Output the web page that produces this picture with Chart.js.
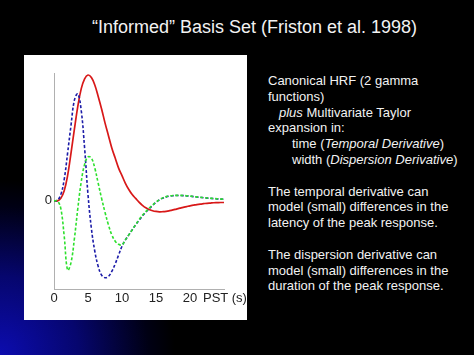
<!DOCTYPE html>
<html>
<head>
<meta charset="utf-8">
<script src="https://cdn.jsdelivr.net/npm/chart.js@4/dist/chart.umd.min.js"></script>
<style>
  html,body{margin:0;padding:0;}
  body{width:474px;height:355px;overflow:hidden;position:relative;font-family:"Liberation Sans",Arial,sans-serif;color:#f2f2f2;
    background:#000 radial-gradient(ellipse 175px 175px at 0% 100%, rgb(12,12,175) 0%, rgb(6,6,110) 45%, rgb(0,0,20) 85%, #000 100%) no-repeat;}
  .title{position:absolute;left:0;width:509px;top:16px;text-align:center;font-size:18px;line-height:22px;}
  .panel{position:absolute;left:24px;top:55px;width:223px;height:265px;background:#fff;}
  .panel canvas{position:absolute;left:0;top:0;}
  .pst{position:absolute;left:179px;top:235px;font-family:"Liberation Sans Narrow","Liberation Sans",Arial,sans-serif;font-size:13px;line-height:15px;color:#222;}
  .notes{position:absolute;left:268px;top:73px;font-size:13px;line-height:15.8px;}
  .notes div{height:15.8px;white-space:nowrap;}
  .i1{padding-left:11px;}
  .i2{padding-left:24px;}
</style>
</head>
<body>
<div class="title">“Informed” Basis Set (Friston et al. 1998)</div>
<div class="panel">
  <canvas id="ch-hrf" width="223" height="265"></canvas>
  <span class="pst">PST (s)</span>
</div>
<div class="notes">
  <div>Canonical HRF (2 gamma</div>
  <div>functions)</div>
  <div class="i1"><i>plus</i> Multivariate Taylor</div>
  <div>expansion in:</div>
  <div class="i2">time (<i>Temporal Derivative</i>)</div>
  <div class="i2">width (<i>Dispersion Derivative</i>)</div>
  <div></div>
  <div>The temporal derivative can</div>
  <div>model (small) differences in the</div>
  <div>latency of the peak response.</div>
  <div></div>
  <div>The dispersion derivative can</div>
  <div>model (small) differences in the</div>
  <div>duration of the peak response.</div>
</div>
<script>
/* ---------- Datos ---------- */
const times=[0,0.5,1,1.5,2,2.5,3,3.5,4,4.5,5,5.5,6,6.5,7,7.5,8,8.5,9,9.5,10,10.5,11,11.5,12,12.5,13,13.5,14,14.5,15,15.5,16,16.5,17,17.5,18,18.5,19,19.5,20,20.5,21,21.5,22,22.5,23,23.5,24,24.5,25];
const canonical=[0,0,0.02,0.08,0.2,0.38,0.57,0.75,0.89,0.97,1,0.98,0.92,0.83,0.73,0.62,0.52,0.42,0.34,0.26,0.2,0.14,0.09,0.05,0.02,-0.01,-0.035,-0.055,-0.068,-0.078,-0.084,-0.087,-0.086,-0.083,-0.078,-0.072,-0.065,-0.058,-0.051,-0.045,-0.039,-0.034,-0.029,-0.025,-0.022,-0.019,-0.017,-0.015,-0.014,-0.013,-0.013];
const temporal=[0,0.005,0.05,0.17,0.38,0.6,0.8,0.85,0.72,0.42,0.05,-0.22,-0.4,-0.52,-0.59,-0.61,-0.6,-0.56,-0.5,-0.43,-0.36,-0.31,-0.27,-0.23,-0.19,-0.155,-0.12,-0.09,-0.062,-0.036,-0.012,0.008,0.022,0.032,0.038,0.041,0.043,0.043,0.042,0.04,0.037,0.034,0.031,0.028,0.025,0.022,0.02,0.018,0.016,0.014,0.013];
const dispersion=[0,0,-0.06,-0.28,-0.55,-0.49,-0.3,-0.06,0.15,0.29,0.35,0.34,0.26,0.14,0.02,-0.09,-0.19,-0.27,-0.32,-0.345,-0.35,-0.31,-0.27,-0.23,-0.19,-0.15,-0.115,-0.085,-0.058,-0.033,-0.01,0.01,0.024,0.034,0.04,0.043,0.044,0.044,0.043,0.041,0.038,0.035,0.032,0.029,0.026,0.023,0.021,0.019,0.017,0.015,0.014];
const xTicks=[0,5,10,15,20];

const pts=arr=>times.map((t,i)=>({x:t,y:arr[i]}));
const tickFont={family:'"Liberation Sans Narrow","Liberation Sans",Arial,sans-serif',size:13};

new Chart(document.getElementById('ch-hrf'),{
  type:'line',
  data:{datasets:[
    {label:'dispersion',data:pts(dispersion),borderColor:'#2de02d',borderWidth:1.6,borderDash:[3,2],pointRadius:0,tension:0.4,fill:false},
    {label:'temporal',data:pts(temporal),borderColor:'#1c1ca8',borderWidth:1.6,borderDash:[3,2],pointRadius:0,tension:0.4,fill:false},
    {label:'canonical',data:pts(canonical),borderColor:'#d81818',borderWidth:1.7,pointRadius:0,tension:0.4,fill:false}
  ]},
  options:{
    responsive:false,animation:false,devicePixelRatio:1,
    layout:{padding:{top:18,right:23,left:0,bottom:0}},
    plugins:{legend:{display:false},tooltip:{enabled:false}},
    scales:{
      x:{type:'linear',min:0,max:25,
        afterBuildTicks:s=>{s.ticks=xTicks.map(v=>({value:v}));},
        afterFit:s=>{s.height=31;},
        grid:{display:false,drawTicks:false},border:{display:true,color:'#b0b0b0',width:1},
        ticks:{color:'#222',font:tickFont,padding:2,maxRotation:0}},
      y:{min:-0.7,max:1.016,
        afterBuildTicks:s=>{s.ticks=[{value:0}];},
        afterFit:s=>{s.width=30;},
        grid:{display:false,drawTicks:false},border:{display:true,color:'#b0b0b0',width:1},
        ticks:{color:'#222',font:tickFont,padding:2}}
    }
  }
});
</script>
</body>
</html>
